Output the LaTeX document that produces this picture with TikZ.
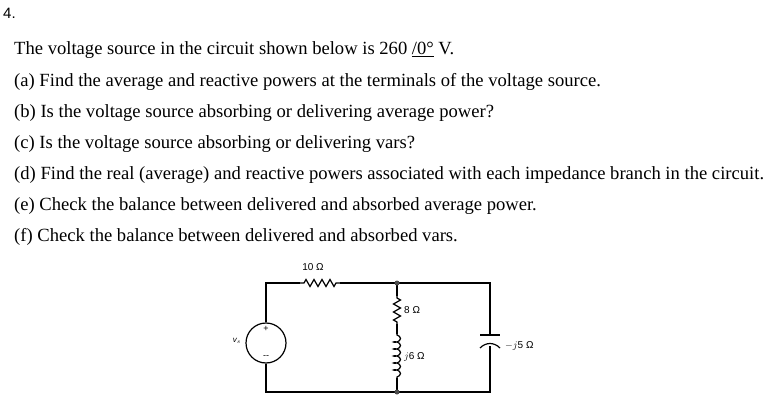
\documentclass[tikz,border=0pt]{standalone}
\usepackage{fontspec}
\setmainfont{Liberation Serif}
\newfontfamily\sansf{Liberation Sans}
\usetikzlibrary{decorations.pathmorphing,decorations.pathreplacing}
\begin{document}
\begin{tikzpicture}[x=1pt,y=-1pt,
  txt/.style={anchor=west,inner sep=0pt,font=\fontsize{18.6}{20}\selectfont},
  lbl/.style={inner sep=1pt,font=\sansf\fontsize{10}{11}\selectfont},
  wire/.style={line width=1.2pt},
  dot/.style={circle,fill=black!70,inner sep=0pt,minimum size=5pt}]
\useasboundingbox (0,0) rectangle (771,401);
\node[anchor=west,inner sep=0pt,font=\sansf\fontsize{15}{16}\selectfont] (n4) at (3,13) {4.};
\node[txt] (l0) at (14,50) {The voltage source in the circuit shown below is 260 \underline{/0°} V.};
\node[txt] (la) at (14,82) {(a) Find the average and reactive powers at the terminals of the voltage source.};
\node[txt] (lb) at (14,113) {(b) Is the voltage source absorbing or delivering average power?};
\node[txt] (lc) at (14,144) {(c) Is the voltage source absorbing or delivering vars?};
\node[txt] (ld) at (14,175) {(d) Find the real (average) and reactive powers associated with each impedance branch in the circuit.};
\node[txt] (le) at (14,206) {(e) Check the balance between delivered and absorbed average power.};
\node[txt] (lf) at (14,237) {(f) Check the balance between delivered and absorbed vars.};
% circuit
\coordinate (tl) at (266,283);
\coordinate (bl) at (266,392);
\coordinate (tm) at (397,283);
\coordinate (bm) at (397,392);
\coordinate (tr) at (490,283);
\coordinate (br) at (490,392);
\node[draw,circle,line width=1.2pt,minimum size=40pt,inner sep=0pt] (vs) at (266,343) {};
\node[font=\sansf\fontsize{9}{10}\selectfont] (plus) at (266,329) {+};
\node[font=\sansf\fontsize{9}{10}\selectfont] (minus) at (266,357) {--};
\node[lbl,font=\sansf\itshape\fontsize{8}{9}\selectfont] (vsl) at (237,341) {v$_s$};
\coordinate (r1a) at (300,283); \coordinate (r1b) at (340,283);
\coordinate (r2a) at (397,296); \coordinate (r2b) at (397,324);
\coordinate (la1) at (397,334); \coordinate (la2) at (397,378);
\coordinate (c1) at (490,335); \coordinate (c2) at (490,346);
\draw[wire] (vs.north) -- (tl) -- (r1a);
\draw[wire,decorate,decoration={zigzag,segment length=8pt,amplitude=3.5pt,pre length=4pt,post length=4pt}] (r1a) -- (r1b);
\draw[wire] (r1b) -- (tm) -- (tr) -- (c1);
\draw[wire] (vs.south) -- (bl) -- (br) -- (c2);
\draw[wire] (tm) -- (r2a);
\draw[wire,decorate,decoration={zigzag,segment length=8pt,amplitude=3.5pt,pre length=2pt,post length=2pt}] (r2a) -- (r2b);
\draw[wire] (r2b) -- (la1);
\draw[wire,decorate,decoration={coil,aspect=0.5,segment length=7pt,amplitude=3.5pt,pre length=1pt,post length=1pt}] (la1) -- (la2);
\draw[wire] (la2) -- (bm);
\draw[wire] (480,335) -- (500,335);
\draw[wire] (480,348) .. controls (486,342) and (494,342) .. (500,348);
\node[dot] (d1) at (tm) {};
\node[dot] (d2) at (bm) {};
\node[lbl] (r1l) at (313,267) {10 Ω};
\node[lbl,anchor=west] (r2l) at (403,310) {8 Ω};
\node[lbl,anchor=west] (l1l) at (403,357) {$j$6 Ω};
\node[lbl,anchor=west] (cl) at (504,346) {$-j$5 Ω};
\end{tikzpicture}
\end{document}
